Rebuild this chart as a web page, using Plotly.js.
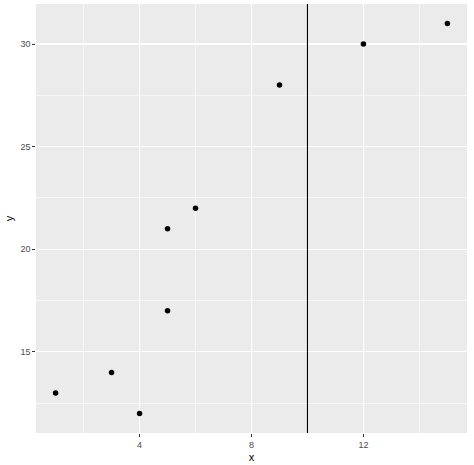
<!DOCTYPE html>
<html>
<head>
<meta charset="utf-8">
<script src="https://cdn.plot.ly/plotly-3.0.1.min.js"></script>
<style>html,body{margin:0;padding:0;background:#fff}#chart{width:474px;height:465px}</style>
</head>
<body>
<div id="chart"></div>
<script>
var xValues = [1, 3, 4, 5, 5, 6, 9, 12, 15];
var yValues = [13, 14, 12, 17, 21, 22, 28, 30, 31];
var vlineX = 10;
var xTicks = [4, 8, 12];
var yTicks = [15, 20, 25, 30];

var trace = {
  x: xValues, y: yValues, type: 'scatter', mode: 'markers',
  marker: {color: '#000000', size: 5.5}, hoverinfo: 'none', cliponaxis: false
};

var tickFont = {family: 'Liberation Sans, Arial, sans-serif', size: 9, color: '#4D4D4D'};
var titleFont = {family: 'Liberation Sans, Arial, sans-serif', size: 11, color: '#000000'};

var layout = {
  width: 474, height: 465,
  margin: {l: 36, r: 7, t: 4, b: 31.5, pad: 0},
  paper_bgcolor: '#FFFFFF', plot_bgcolor: '#EBEBEB',
  showlegend: false,
  xaxis: {
    range: [0.3, 15.7], tickvals: xTicks, ticktext: xTicks.map(String),
    showgrid: true, gridcolor: '#FFFFFF', gridwidth: 1.1,
    minor: {tickvals: [2, 6, 10, 14], showgrid: true, gridcolor: '#FFFFFF', gridwidth: 0.55, ticks: ''},
    zeroline: false, showline: false,
    ticks: 'outside', ticklen: 2.7, tickwidth: 1, tickcolor: '#333333',
    tickfont: tickFont,
    title: {text: 'x', font: titleFont, standoff: 4}
  },
  yaxis: {
    range: [11.05, 31.95], tickvals: yTicks, ticktext: yTicks.map(String),
    showgrid: true, gridcolor: '#FFFFFF', gridwidth: 1.1,
    minor: {tickvals: [12.5, 17.5, 22.5, 27.5], showgrid: true, gridcolor: '#FFFFFF', gridwidth: 0.55, ticks: ''},
    zeroline: false, showline: false,
    ticks: 'outside', ticklen: 2.7, tickwidth: 1, tickcolor: '#333333',
    tickfont: tickFont,
    title: {text: 'y', font: titleFont, standoff: 4}
  },
  shapes: [{
    type: 'line', xref: 'x', yref: 'paper', x0: vlineX, x1: vlineX, y0: 0, y1: 1,
    line: {color: '#000000', width: 1.1}
  }]
};

Plotly.newPlot('chart', [trace], layout, {displayModeBar: false, staticPlot: true});
</script>
</body>
</html>
